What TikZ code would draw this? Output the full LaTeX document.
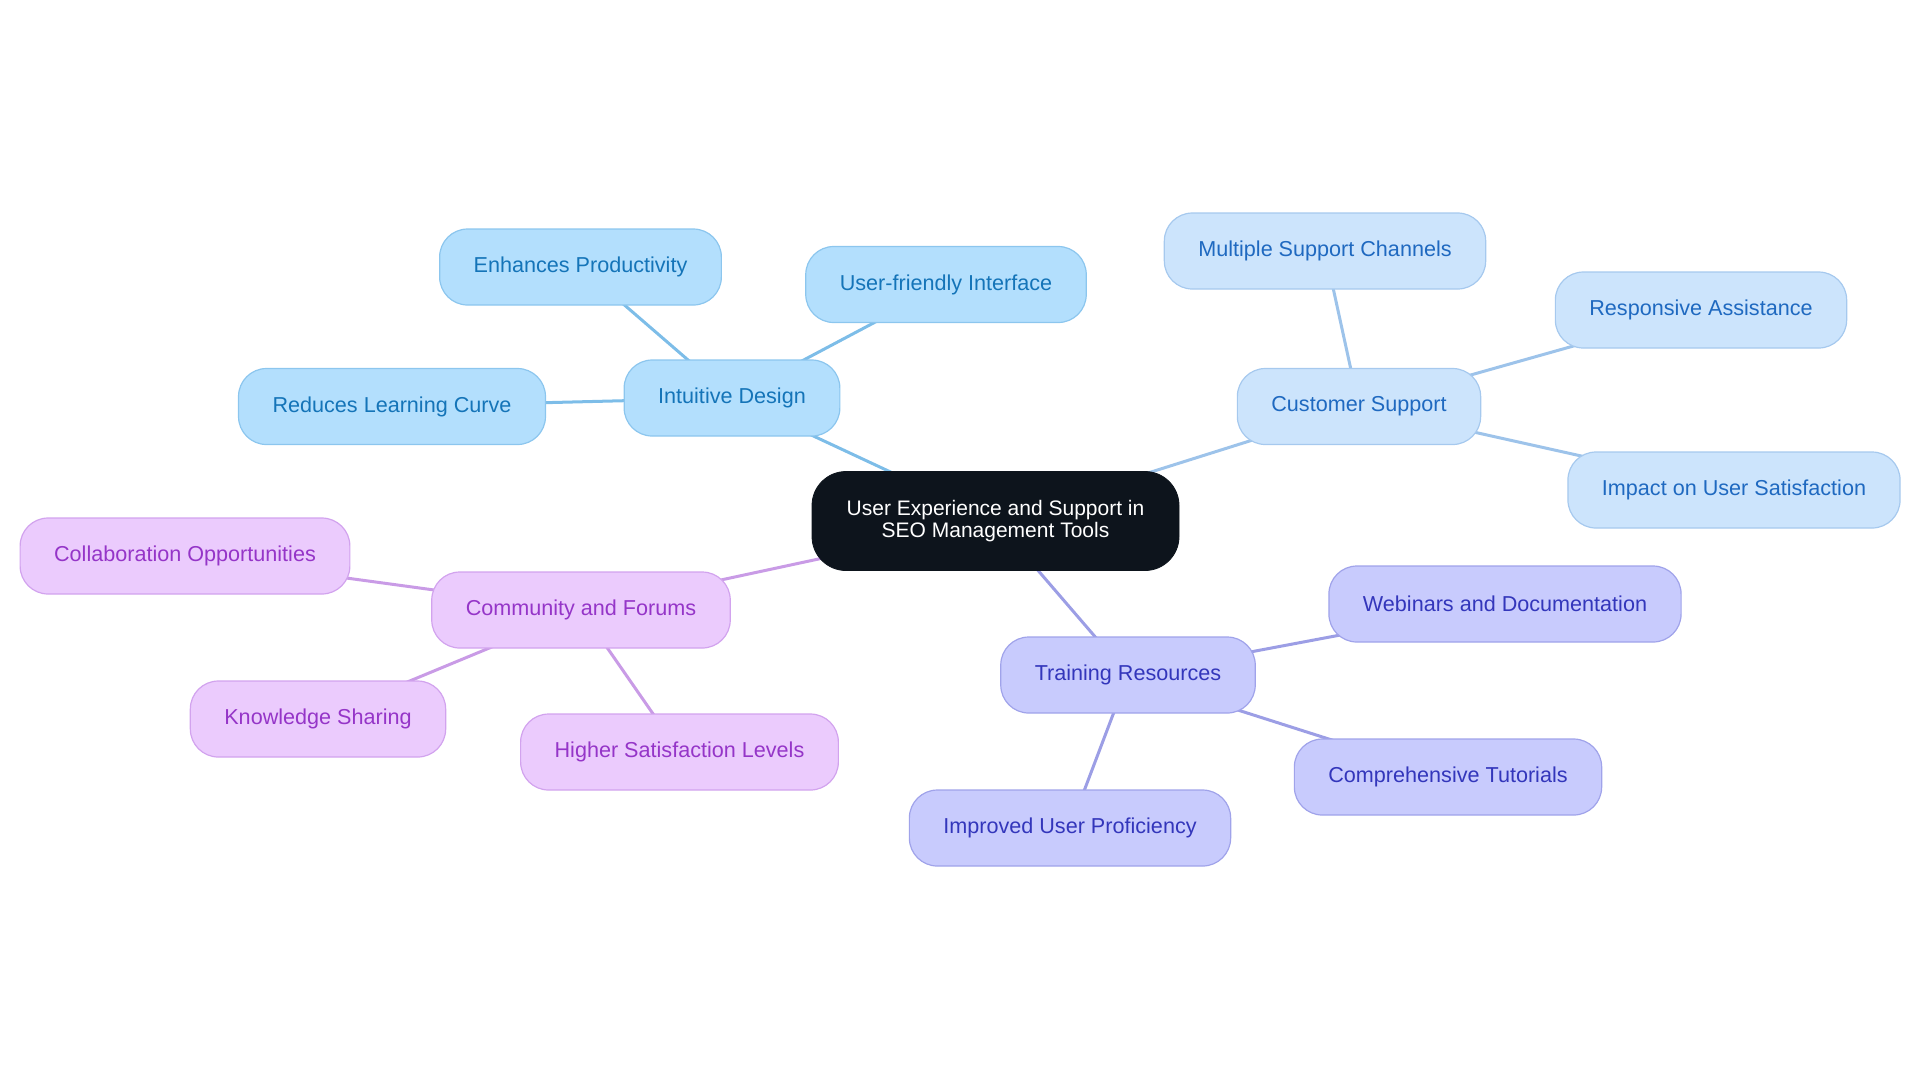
\documentclass[tikz,border=0pt]{standalone}
\usepackage{fontspec}
\setmainfont{Liberation Sans}
\usetikzlibrary{backgrounds}
\definecolor{bFill}{HTML}{B3DFFD}\definecolor{bDraw}{HTML}{8CC6EE}\definecolor{bText}{HTML}{1474B8}\definecolor{bLine}{HTML}{7DBDE8}
\definecolor{cFill}{HTML}{CCE4FC}\definecolor{cDraw}{HTML}{A6C9EE}\definecolor{cText}{HTML}{1F69C0}\definecolor{cLine}{HTML}{9DC3EA}
\definecolor{pFill}{HTML}{EBCBFD}\definecolor{pDraw}{HTML}{D2A3EE}\definecolor{pText}{HTML}{9535C8}\definecolor{pLine}{HTML}{C99BE6}
\definecolor{tFill}{HTML}{C8CBFD}\definecolor{tDraw}{HTML}{A0A3EA}\definecolor{tText}{HTML}{3336BB}\definecolor{tLine}{HTML}{9C9EE5}
\definecolor{rootFill}{HTML}{0D141C}
\tikzset{
  x=0.5pt, y=-0.5pt,
  basebox/.style={rectangle, rounded corners=14pt, line width=0.6pt, inner xsep=17pt, inner ysep=0pt,
    minimum height=38pt, font=\fontsize{10.8pt}{13pt}\selectfont, align=center},
  bluebox/.style={basebox, fill=bFill, draw=bDraw, text=bText},
  cyanbox/.style={basebox, fill=cFill, draw=cDraw, text=cText},
  purpbox/.style={basebox, fill=pFill, draw=pDraw, text=pText},
  indbox/.style={basebox, fill=tFill, draw=tDraw, text=tText},
  rootbox/.style={rectangle, rounded corners=17pt, fill=rootFill, draw=rootFill, text=white, inner xsep=17pt,
    minimum width=183.5pt, minimum height=49.5pt, font=\fontsize{10.5pt}{11pt}\selectfont, align=center},
  edge/.style={line width=1.5pt},
}
\begin{document}
\begin{tikzpicture}
\useasboundingbox (0,0) rectangle (1920,1083);
\node[rootbox] (root) at (995.5,521) {User Experience and Support in\\SEO Management Tools};
\node[bluebox] (id) at (732,398) {Intuitive Design};
\node[bluebox] (ep) at (580.5,267) {Enhances Productivity};
\node[bluebox] (ufi) at (946,284.5) {User-friendly Interface};
\node[bluebox] (rlc) at (392,406.5) {Reduces Learning Curve};
\node[cyanbox] (cs) at (1359,406.5) {Customer Support};
\node[cyanbox] (msc) at (1325,251) {Multiple Support Channels};
\node[cyanbox] (ra) at (1701,310) {Responsive Assistance};
\node[cyanbox] (ius) at (1734,490) {Impact on User Satisfaction};
\node[purpbox] (cf) at (581,610) {Community and Forums};
\node[purpbox] (co) at (185,556) {Collaboration Opportunities};
\node[purpbox] (ks) at (318,719) {Knowledge Sharing};
\node[purpbox] (hsl) at (679.5,752) {Higher Satisfaction Levels};
\node[indbox] (tr) at (1128,675) {Training Resources};
\node[indbox] (wd) at (1505,604) {Webinars and Documentation};
\node[indbox] (ct) at (1448,777) {Comprehensive Tutorials};
\node[indbox] (iup) at (1070,828) {Improved User Proficiency};
\begin{scope}[on background layer]
\draw[edge, bLine] (root.center) -- (id.center);
\draw[edge, bLine] (id.center) -- (ep.center);
\draw[edge, bLine] (id.center) -- (ufi.center);
\draw[edge, bLine] (id.center) -- (rlc.center);
\draw[edge, cLine] (root.center) -- (cs.center);
\draw[edge, cLine] (cs.center) -- (msc.center);
\draw[edge, cLine] (cs.center) -- (ra.center);
\draw[edge, cLine] (cs.center) -- (ius.center);
\draw[edge, pLine] (root.center) -- (cf.center);
\draw[edge, pLine] (cf.center) -- (co.center);
\draw[edge, pLine] (cf.center) -- (ks.center);
\draw[edge, pLine] (cf.center) -- (hsl.center);
\draw[edge, tLine] (root.center) -- (tr.center);
\draw[edge, tLine] (tr.center) -- (wd.center);
\draw[edge, tLine] (tr.center) -- (ct.center);
\draw[edge, tLine] (tr.center) -- (iup.center);
\end{scope}
\end{tikzpicture}
\end{document}
